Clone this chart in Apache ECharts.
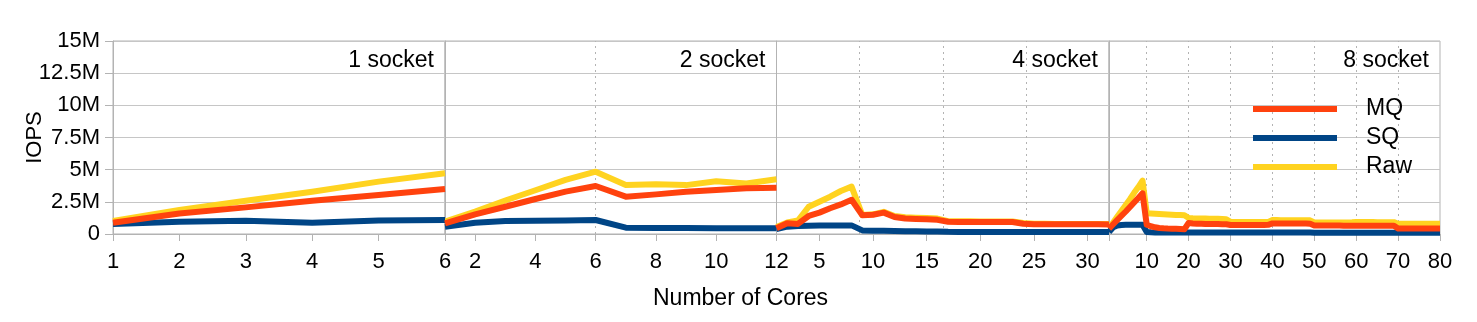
<!DOCTYPE html>
<html>
<head>
<meta charset="utf-8">
<script src="https://cdn.jsdelivr.net/npm/echarts@6/dist/echarts.min.js"></script>
<style>
html,body{margin:0;padding:0;background:#fff;}
#chart{width:1477px;height:322px;}
</style>
</head>
<body>
<div id="chart"></div>
<script>
// ---------------- data (IOPS in millions) ----------------
const panelNames = ['1 socket', '2 socket', '4 socket', '8 socket'];
const coreMax = [6, 12, 32, 80];
const xLabelTicks = [
  [1, 2, 3, 4, 5, 6],
  [2, 4, 6, 8, 10, 12],
  [5, 10, 15, 20, 25, 30],
  [10, 20, 30, 40, 50, 60, 70, 80]
];
const socketDividers = [[], [6], [8.73, 16.51, 24.28], [10, 20, 30, 40, 50, 60, 70]];
const yTicks = [0, 2.5, 5, 7.5, 10, 12.5, 15];
const seriesNames = ['MQ', 'SQ', 'Raw'];

const mq1 = [0.88, 1.6, 2.07, 2.59, 3.03, 3.5];
const sq1 = [0.78, 0.96, 1.03, 0.88, 1.05, 1.09];
const raw1 = [1.01, 1.86, 2.59, 3.29, 4.07, 4.72];

const mq2 = [0.83, 1.53, 2.12, 2.72, 3.29, 3.73, 2.9, 3.08, 3.29, 3.42, 3.55, 3.6];
const sq2 = [0.57, 0.88, 1.01, 1.03, 1.05, 1.09, 0.49, 0.47, 0.47, 0.44, 0.44, 0.44];
const raw2 = [0.96, 1.75, 2.6, 3.4, 4.2, 4.84, 3.8, 3.86, 3.8, 4.1, 3.92, 4.25];

const mq3 = [0.44, 0.83, 0.78, 1.4, 1.66, 2.0, 2.3, 2.66, 1.45, 1.5, 1.66, 1.32, 1.2, 1.17, 1.14, 1.1,
  0.95, 0.94, 0.94, 0.94, 0.93, 0.93, 0.93, 0.8, 0.75, 0.75, 0.75, 0.75, 0.75, 0.75, 0.75, 0.74];
const sq3 = [0.39, 0.57, 0.62, 0.65, 0.66, 0.67, 0.67, 0.67, 0.28, 0.26, 0.25, 0.23, 0.22, 0.21, 0.2, 0.2,
  0.17, 0.16, 0.16, 0.16, 0.16, 0.16, 0.16, 0.15, 0.15, 0.15, 0.15, 0.15, 0.15, 0.15, 0.15, 0.15];
const raw3 = [0.55, 0.9, 1.05, 2.12, 2.51, 2.9, 3.34, 3.68, 1.47, 1.53, 1.72, 1.4, 1.3, 1.27, 1.24, 1.2,
  1.0, 0.99, 0.99, 0.98, 0.98, 0.98, 0.97, 0.85, 0.79, 0.79, 0.78, 0.78, 0.78, 0.78, 0.78, 0.78];

const mq4 = [0.42,
  0.76, 1.1, 1.42, 1.75, 2.1, 2.45, 2.8, 3.16,
  0.72, 0.6, 0.52, 0.47, 0.44, 0.42, 0.41, 0.4, 0.39, 0.37,
  0.86, 0.82, 0.8, 0.79, 0.78, 0.78, 0.77, 0.77, 0.76, 0.76,
  0.7, 0.7, 0.7, 0.7, 0.7, 0.7, 0.7, 0.7, 0.7, 0.71,
  0.82, 0.82, 0.82, 0.82, 0.81, 0.81, 0.81, 0.81, 0.81, 0.8,
  0.66, 0.66, 0.66, 0.66, 0.66, 0.66, 0.66, 0.65, 0.65, 0.65,
  0.65, 0.65, 0.65, 0.65, 0.65, 0.65, 0.65, 0.64, 0.64, 0.64,
  0.42, 0.42, 0.42, 0.42, 0.42, 0.42, 0.42, 0.42, 0.42, 0.42, 0.42];
const sq4 = [0.15,
  0.52, 0.66, 0.7, 0.71, 0.71, 0.72, 0.72, 0.72,
  0.16, 0.13, 0.12, 0.12, 0.12, 0.12, 0.12, 0.12, 0.12, 0.12,
  0.12, 0.12, 0.12, 0.12, 0.12, 0.12, 0.12, 0.12, 0.12, 0.12,
  0.11, 0.11, 0.11, 0.11, 0.11, 0.11, 0.11, 0.11, 0.11, 0.11,
  0.11, 0.11, 0.11, 0.11, 0.11, 0.11, 0.11, 0.11, 0.11, 0.11,
  0.1, 0.1, 0.1, 0.1, 0.1, 0.1, 0.1, 0.1, 0.1, 0.1,
  0.1, 0.1, 0.1, 0.1, 0.1, 0.1, 0.1, 0.1, 0.1, 0.1,
  0.1, 0.1, 0.1, 0.1, 0.1, 0.1, 0.1, 0.1, 0.1, 0.1, 0.1];
const raw4 = [0.45,
  0.9, 1.35, 1.8, 2.25, 2.7, 3.2, 3.65, 4.15,
  1.62, 1.6, 1.58, 1.56, 1.54, 1.52, 1.5, 1.48, 1.47, 1.45,
  1.24, 1.22, 1.21, 1.2, 1.2, 1.19, 1.19, 1.18, 1.17, 1.15,
  0.95, 0.94, 0.94, 0.94, 0.93, 0.93, 0.93, 0.93, 0.93, 0.94,
  1.08, 1.08, 1.07, 1.07, 1.07, 1.07, 1.06, 1.06, 1.06, 1.06,
  0.9, 0.9, 0.9, 0.9, 0.9, 0.9, 0.9, 0.9, 0.9, 0.91,
  0.93, 0.93, 0.93, 0.93, 0.93, 0.92, 0.92, 0.92, 0.92, 0.92,
  0.8, 0.8, 0.8, 0.8, 0.8, 0.8, 0.8, 0.8, 0.8, 0.8, 0.8];

const panelSeries = [
  { MQ: mq1, SQ: sq1, Raw: raw1 },
  { MQ: mq2, SQ: sq2, Raw: raw2 },
  { MQ: mq3, SQ: sq3, Raw: raw3 },
  { MQ: mq4, SQ: sq4, Raw: raw4 }
];

// ---------------- layout / style ----------------
const FONT = '"Liberation Sans", Arial, sans-serif';
const FS_TICK = 22;
const FS_TEXT = 23;
const colors = { MQ: '#ff420e', SQ: '#004586', Raw: '#ffd320' };
const zOrder = { Raw: 2, SQ: 3, MQ: 4 };
const GRID_TOP = 41, GRID_H = 193;
const panelLeft = [113, 445, 776.5, 1109];
const panelWidth = [332, 331.5, 332.5, 331];
const gridColor = '#c6c6c6';
const borderColor = '#b3b3b3';

const grids = [], xAxes = [], yAxes = [], series = [], graphics = [];

for (let p = 0; p < 4; p++) {
  grids.push({
    left: panelLeft[p], top: GRID_TOP, width: panelWidth[p], height: GRID_H,
    show: true, borderColor: borderColor, borderWidth: 1, backgroundColor: 'transparent'
  });
  const tickVals = p === 0 ? xLabelTicks[p] : [1].concat(xLabelTicks[p]);
  xAxes.push({
    type: 'value', gridIndex: p, min: 1, max: coreMax[p],
    axisLine: { show: true, onZero: false, lineStyle: { color: borderColor, width: 1 } },
    axisTick: { show: true, length: 7, customValues: tickVals, lineStyle: { color: borderColor } },
    axisLabel: { show: true, customValues: xLabelTicks[p], margin: 17, color: '#000',
      fontFamily: FONT, fontSize: FS_TICK },
    splitLine: { show: false }
  });
  yAxes.push({
    type: 'value', gridIndex: p, min: 0, max: 15, interval: 2.5,
    name: p === 0 ? 'IOPS' : '', nameLocation: 'middle', nameGap: 67,
    nameMoveOverlap: false,
    nameTextStyle: { color: '#000', fontFamily: FONT, fontSize: FS_TEXT - 1 },
    axisLine: { show: true, lineStyle: { color: borderColor } },
    axisTick: { show: p === 0, length: 8, lineStyle: { color: borderColor } },
    axisLabel: { show: p === 0, margin: 13, color: '#000', fontFamily: FONT, fontSize: FS_TICK,
      formatter: v => v === 0 ? '0' : v + 'M' },
    splitLine: { show: true, lineStyle: { color: gridColor, width: 1 } }
  });
  seriesNames.forEach((name, si) => {
    const vals = panelSeries[p][name];
    const s = {
      name: name, type: 'line', xAxisIndex: p, yAxisIndex: p,
      data: vals.map((v, i) => [i + 1, v]),
      showSymbol: false, symbol: 'none', clip: false,
      z: zOrder[name],
      lineStyle: { color: colors[name], width: 6, join: 'round', cap: 'butt' },
      itemStyle: { color: colors[name] },
      emphasis: { disabled: true }, silent: true, animation: false
    };
    if (si === 0 && socketDividers[p].length) {
      s.markLine = {
        silent: true, symbol: 'none', animation: false, z: 1,
        label: { show: false },
        lineStyle: { color: '#b3b3b3', width: 1, type: [2, 4] },
        data: socketDividers[p].map(v => ({ xAxis: v }))
      };
    }
    series.push(s);
  });
  graphics.push({
    type: 'text', right: 1477 - (panelLeft[p] + panelWidth[p] - 11), top: 49,
    style: { text: panelNames[p], fill: '#000', font: FS_TEXT + 'px ' + FONT, textAlign: 'right' }
  });
}

graphics.push({
  type: 'text', left: 653, top: 287,
  style: { text: 'Number of Cores', fill: '#000', font: FS_TEXT + 'px ' + FONT }
});

const chart = echarts.init(document.getElementById('chart'), null, { renderer: 'canvas' });
chart.setOption({
  animation: false,
  backgroundColor: '#fff',
  grid: grids, xAxis: xAxes, yAxis: yAxes, series: series,
  graphic: graphics,
  legend: {
    orient: 'vertical', left: 1253, top: 97, padding: 0,
    data: ['MQ', 'SQ', 'Raw'],
    icon: 'rect', itemWidth: 84, itemHeight: 6, itemGap: 5,
    selectedMode: false,
    textStyle: { color: '#000', fontFamily: FONT, fontSize: FS_TEXT, lineHeight: 24, padding: [0, 0, 0, 24] }
  }
});
</script>
</body>
</html>
